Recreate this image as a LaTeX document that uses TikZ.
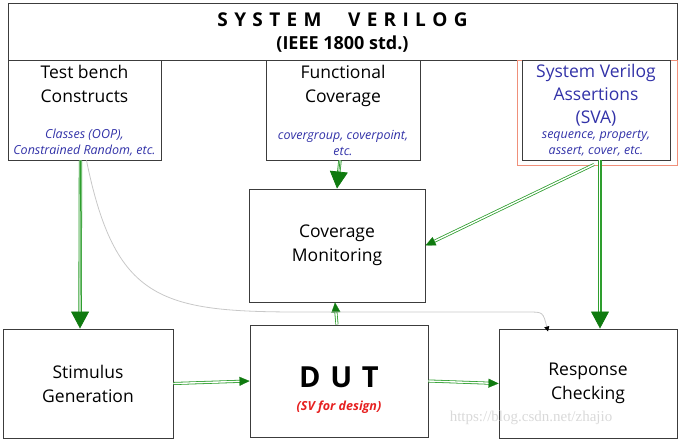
\documentclass[tikz,border=0pt]{standalone}
\usepackage{fontspec}
\setmainfont{Open Sans}
\newfontfamily\markfont{Liberation Serif}
\usetikzlibrary{arrows.meta, calc}

\definecolor{boxgray}{HTML}{3C3C3C}
\definecolor{arrgreen}{HTML}{2E9E2E}
\definecolor{tipgreen}{HTML}{0F7A0F}
\definecolor{noteblue}{HTML}{3232A8}
\definecolor{framered}{HTML}{F0907A}
\definecolor{curvegray}{HTML}{C8C8C8}
\definecolor{dutred}{HTML}{E62020}

\begin{document}
\begin{tikzpicture}[
      x=1pt, y=-1pt,
      box/.style={rectangle, draw=boxgray, line width=0.95pt, inner sep=0pt, align=center},
      head/.style={font=\fontsize{17.5}{24}\selectfont, align=center},
      note/.style={font=\itshape\fontsize{12.5}{16}\selectfont, text=noteblue, align=center},
      bigarrow/.style={draw=arrgreen, line width=0.8pt,
        -{Triangle[width=18pt, length=17pt, color=tipgreen]},
        preaction={draw=arrgreen, double=white, double distance=1.8pt, line width=0.8pt, -, shorten >=16pt}},
      thinarrow/.style={draw=white, line width=0.2pt,
        -{Triangle[width=9pt, length=10pt, color=tipgreen]},
        preaction={draw=arrgreen, double=white, double distance=1.4pt, line width=0.8pt, -, shorten >=9pt}},
      graycurve/.style={draw=curvegray, line width=0.8pt, -{Triangle[width=5pt, length=5pt, color=black]}}
    ]

    \useasboundingbox (0,0) rectangle (680,442);

    % Top banner
    \node[box, minimum width=669pt, minimum height=57pt] (sv) at (342.5,31.5) {};
    \node[font=\bfseries\fontsize{19}{22}\selectfont] (svtitle) at (342.5,20)
      {S\,\,Y\,\,S\,\,T\,\,E\,\,M\hspace{1.4em}V\,\,E\,\,R\,\,I\,\,L\,\,O\,\,G};
    \node[font=\bfseries\fontsize{18}{21}\selectfont] (svstd) at (342.5,44) {(IEEE 1800 std.)};

    % Language feature boxes
    \node[box, minimum width=153pt, minimum height=100pt] (tb) at (84.5,110) {};
    \node[head, anchor=north] (tbtext) at (84.5,62) {Test bench\\Constructs};
    \node[note] (tbnote) at (84.5,143) {Classes (OOP),\\Constrained Random, etc.};

    \node[box, minimum width=154pt, minimum height=100pt] (fc) at (343,110) {};
    \node[head, anchor=north] (fctext) at (343,62) {Functional\\Coverage};
    \node[note] (fcnote) at (343,143) {covergroup, coverpoint,\\etc.};

    \draw[framered, line width=0.9pt] (517,60) rectangle (677,165);
    \node[box, minimum width=148pt, minimum height=100pt] (sva) at (596,110) {};
    \node[head, text=noteblue, anchor=north, font=\fontsize{17.5}{23}\selectfont] (svatext) at (596,61) {System Verilog\\Assertions\\(SVA)};
    \node[note] (svanote) at (596,143) {sequence, property,\\assert, cover, etc.};

    % Verification blocks
    \node[box, head, minimum width=176pt, minimum height=113pt] (cm) at (337,245.5) {Coverage\\Monitoring};
    \node[box, head, minimum width=170pt, minimum height=109pt] (stim) at (88,383.5) {Stimulus\\Generation};
    \node[box, minimum width=178pt, minimum height=112pt] (dut) at (339,381) {};
    \node[font=\bfseries\fontsize{29}{32}\selectfont] (duttext) at (339,377) {D\,\,U\,\,T};
    \node[font=\bfseries\itshape\fontsize{12.5}{14}\selectfont, text=dutred] (dutnote) at (339,407) {(SV for design)};
    \node[box, head, minimum width=178pt, minimum height=109pt] (resp) at (588,383.5) {Response\\Checking};

    % Watermark
    \node[font=\markfont\fontsize{15}{17}\selectfont, text=black!15] (mark) at (531,418) {https://blog.csdn.net/zhajio};

    % Connections
    \draw[bigarrow] ([xshift=-4pt]tb.south) -- ([xshift=-8pt]stim.north);
    \draw[bigarrow] ([xshift=-3pt]fc.south) -- (cm.north);
    \draw[bigarrow] ([xshift=4pt]sva.south) -- ([xshift=12pt]resp.north);
    \draw[thinarrow] ([xshift=-2pt,yshift=-4pt]sva.south) -- (cm.east);
    \draw[thinarrow] (stim.east) -- (dut.west);
    \draw[thinarrow] (dut.east) -- (resp.west);
    \draw[thinarrow] ([xshift=-2pt]dut.north) -- ([xshift=-2pt]cm.south);
    \coordinate (rcin) at ([xshift=-40pt,yshift=-3pt]resp.north);
    \draw[graycurve] ([xshift=2pt]tb.south) .. controls (115,300) and (160,312) .. (300,312)
      -- (528,312) .. controls (543,312) .. (rcin);

\end{tikzpicture}
\end{document}
